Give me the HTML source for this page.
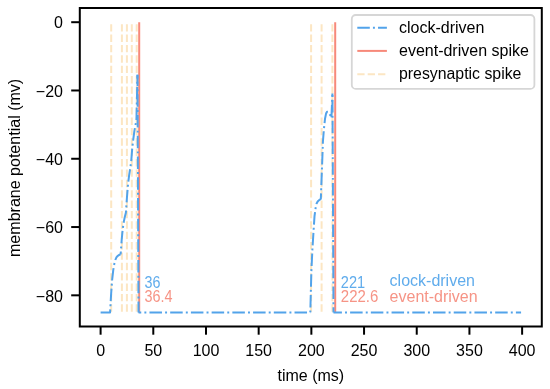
<!DOCTYPE html><html><head><meta charset="utf-8"><style>html,body{margin:0;padding:0;background:#fff;}svg{display:block;}text{font-family:"Liberation Sans",Arial,sans-serif;font-size:16px;}</style></head><body>
<svg width="550" height="389" viewBox="0 0 550 389">
<rect x="0" y="0" width="550" height="389" fill="#fff"/>
<line x1="111.20" y1="24.20" x2="111.20" y2="312.39" stroke="#fce6c3" stroke-width="2" stroke-dasharray="7.3 3.076"/>
<line x1="121.90" y1="24.20" x2="121.90" y2="312.39" stroke="#fce6c3" stroke-width="2" stroke-dasharray="7.3 3.076"/>
<line x1="126.90" y1="24.20" x2="126.90" y2="312.39" stroke="#fce6c3" stroke-width="2" stroke-dasharray="7.3 3.076"/>
<line x1="131.80" y1="24.20" x2="131.80" y2="312.39" stroke="#fce6c3" stroke-width="2" stroke-dasharray="7.3 3.076"/>
<line x1="136.70" y1="24.20" x2="136.70" y2="312.39" stroke="#fce6c3" stroke-width="2" stroke-dasharray="7.3 3.076"/>
<line x1="311.10" y1="24.20" x2="311.10" y2="312.39" stroke="#fce6c3" stroke-width="2" stroke-dasharray="7.3 3.076"/>
<line x1="321.60" y1="24.20" x2="321.60" y2="312.39" stroke="#fce6c3" stroke-width="2" stroke-dasharray="7.3 3.076"/>
<line x1="332.40" y1="24.20" x2="332.40" y2="312.39" stroke="#fce6c3" stroke-width="2" stroke-dasharray="7.3 3.076"/>
<line x1="139.20" y1="312.39" x2="139.20" y2="22.20" stroke="#f7897a" stroke-width="2"/>
<line x1="335.20" y1="312.39" x2="335.20" y2="22.20" stroke="#f7897a" stroke-width="2"/>
<path d="M100.60,312.39 L110.08,312.39 L111.14,293.61 L112.19,279.27 L113.25,270.06 L114.30,263.91 L115.35,259.81 L116.41,257.42 L117.46,256.06 L118.51,255.38 L119.57,254.69 L120.62,254.35" fill="none" stroke="#52a3ea" stroke-width="2" stroke-dasharray="12.512 3.128 1.955 3.128" stroke-dashoffset="0.0" stroke-linejoin="round"/>
<path d="M120.62,254.35 L121.68,240.01 L122.73,228.75 L123.78,221.92 L124.84,216.80 L125.89,212.70 L126.94,197.68 L128.00,184.37 L129.05,175.83 L130.11,169.00 L131.16,162.17 L132.21,148.52 L133.27,139.30 L134.32,131.45 L135.38,125.30 L136.43,120.52 L137.48,74.78" fill="none" stroke="#52a3ea" stroke-width="2" stroke-dasharray="12.512 3.128 1.955 3.128" stroke-dashoffset="9.698" stroke-linejoin="round"/>
<path d="M137.48,74.78 L138.54,312.39" fill="none" stroke="#52a3ea" stroke-width="2" stroke-dasharray="12.512 3.128 1.955 3.128" stroke-dashoffset="1.2" stroke-linejoin="round"/>
<path d="M138.54,312.39 L310.31,312.39" fill="none" stroke="#52a3ea" stroke-width="2" stroke-dasharray="12.512 3.128 1.955 3.128" stroke-dashoffset="9.8" stroke-linejoin="round"/>
<path d="M310.31,312.39 L311.36,271.42 L312.41,249.23 L313.47,232.16 L314.52,216.12 L315.58,208.26 L316.63,203.48 L317.68,201.44 L318.74,200.41 L319.79,199.73 L320.84,198.70 L321.90,170.03 L322.95,141.01 L324.01,128.03 L325.06,118.47 L326.11,113.35 L327.17,111.65 L328.22,111.99 L329.27,113.35 L330.33,115.40 L331.38,118.13 L332.44,93.55" fill="none" stroke="#52a3ea" stroke-width="2" stroke-dasharray="12.512 3.128 1.955 3.128" stroke-dashoffset="15.8" stroke-linejoin="round"/>
<path d="M332.44,93.55 L333.49,312.39" fill="none" stroke="#52a3ea" stroke-width="2" stroke-dasharray="12.512 3.128 1.955 3.128" stroke-dashoffset="14.2" stroke-linejoin="round"/>
<path d="M333.49,312.39 L521.07,312.39" fill="none" stroke="#52a3ea" stroke-width="2" stroke-dasharray="12.512 3.128 1.955 3.128" stroke-dashoffset="4.1" stroke-linejoin="round"/>
<rect x="79.8" y="8.0" width="462.0" height="318.5" fill="none" stroke="#000" stroke-width="2"/>
<line x1="100.60" y1="326.50" x2="100.60" y2="334.7" stroke="#000" stroke-width="2"/>
<text x="100.60" y="355.6" text-anchor="middle">0</text>
<line x1="153.29" y1="326.50" x2="153.29" y2="334.7" stroke="#000" stroke-width="2"/>
<text x="153.29" y="355.6" text-anchor="middle">50</text>
<line x1="205.98" y1="326.50" x2="205.98" y2="334.7" stroke="#000" stroke-width="2"/>
<text x="205.98" y="355.6" text-anchor="middle">100</text>
<line x1="258.67" y1="326.50" x2="258.67" y2="334.7" stroke="#000" stroke-width="2"/>
<text x="258.67" y="355.6" text-anchor="middle">150</text>
<line x1="311.36" y1="326.50" x2="311.36" y2="334.7" stroke="#000" stroke-width="2"/>
<text x="311.36" y="355.6" text-anchor="middle">200</text>
<line x1="364.05" y1="326.50" x2="364.05" y2="334.7" stroke="#000" stroke-width="2"/>
<text x="364.05" y="355.6" text-anchor="middle">250</text>
<line x1="416.74" y1="326.50" x2="416.74" y2="334.7" stroke="#000" stroke-width="2"/>
<text x="416.74" y="355.6" text-anchor="middle">300</text>
<line x1="469.43" y1="326.50" x2="469.43" y2="334.7" stroke="#000" stroke-width="2"/>
<text x="469.43" y="355.6" text-anchor="middle">350</text>
<line x1="522.12" y1="326.50" x2="522.12" y2="334.7" stroke="#000" stroke-width="2"/>
<text x="522.12" y="355.6" text-anchor="middle">400</text>
<line x1="71.2" y1="22.20" x2="79.80" y2="22.20" stroke="#000" stroke-width="2"/>
<text x="63.0" y="28.40" text-anchor="end">0</text>
<line x1="71.2" y1="90.48" x2="79.80" y2="90.48" stroke="#000" stroke-width="2"/>
<text x="63.0" y="96.68" text-anchor="end">−20</text>
<line x1="71.2" y1="158.76" x2="79.80" y2="158.76" stroke="#000" stroke-width="2"/>
<text x="63.0" y="164.96" text-anchor="end">−40</text>
<line x1="71.2" y1="227.04" x2="79.80" y2="227.04" stroke="#000" stroke-width="2"/>
<text x="63.0" y="233.24" text-anchor="end">−60</text>
<line x1="71.2" y1="295.32" x2="79.80" y2="295.32" stroke="#000" stroke-width="2"/>
<text x="63.0" y="301.52" text-anchor="end">−80</text>
<text x="310.8" y="380.9" text-anchor="middle">time (ms)</text>
<text transform="translate(20.0,167.5) rotate(-90)" x="-89.5" y="0" textLength="178.2" lengthAdjust="spacingAndGlyphs">membrane potential (mv)</text>
<text x="144.6" y="288.0" fill="#60acec" textLength="15.9" lengthAdjust="spacingAndGlyphs">36</text>
<text x="144.6" y="301.5" fill="#f69486" textLength="28.0" lengthAdjust="spacingAndGlyphs">36.4</text>
<text x="340.8" y="288.0" fill="#60acec" textLength="24.3" lengthAdjust="spacingAndGlyphs">221</text>
<text x="340.8" y="301.6" fill="#f69486" textLength="37.5" lengthAdjust="spacingAndGlyphs">222.6</text>
<text x="389.6" y="285.8" fill="#60acec">clock-driven</text>
<text x="389.6" y="301.9" fill="#f69486">event-driven</text>
<rect x="351.8" y="15.0" width="182.6" height="73.9" rx="4" ry="4" fill="#fff" fill-opacity="0.8" stroke="#d6d6d6" stroke-width="1.8"/>
<line x1="357.3" y1="27.7" x2="386.9" y2="27.7" stroke="#52a3ea" stroke-width="2" stroke-dasharray="12.512 3.128 1.955 3.128"/>
<line x1="357.3" y1="50.9" x2="386.9" y2="50.9" stroke="#f7897a" stroke-width="2"/>
<line x1="357.3" y1="74.2" x2="386.9" y2="74.2" stroke="#fce6c3" stroke-width="2" stroke-dasharray="7.3 3.076"/>
<text x="399.0" y="32.7">clock-driven</text>
<text x="399.0" y="55.6">event-driven spike</text>
<text x="399.0" y="79.1" textLength="122.4" lengthAdjust="spacingAndGlyphs">presynaptic spike</text>
</svg></body></html>
